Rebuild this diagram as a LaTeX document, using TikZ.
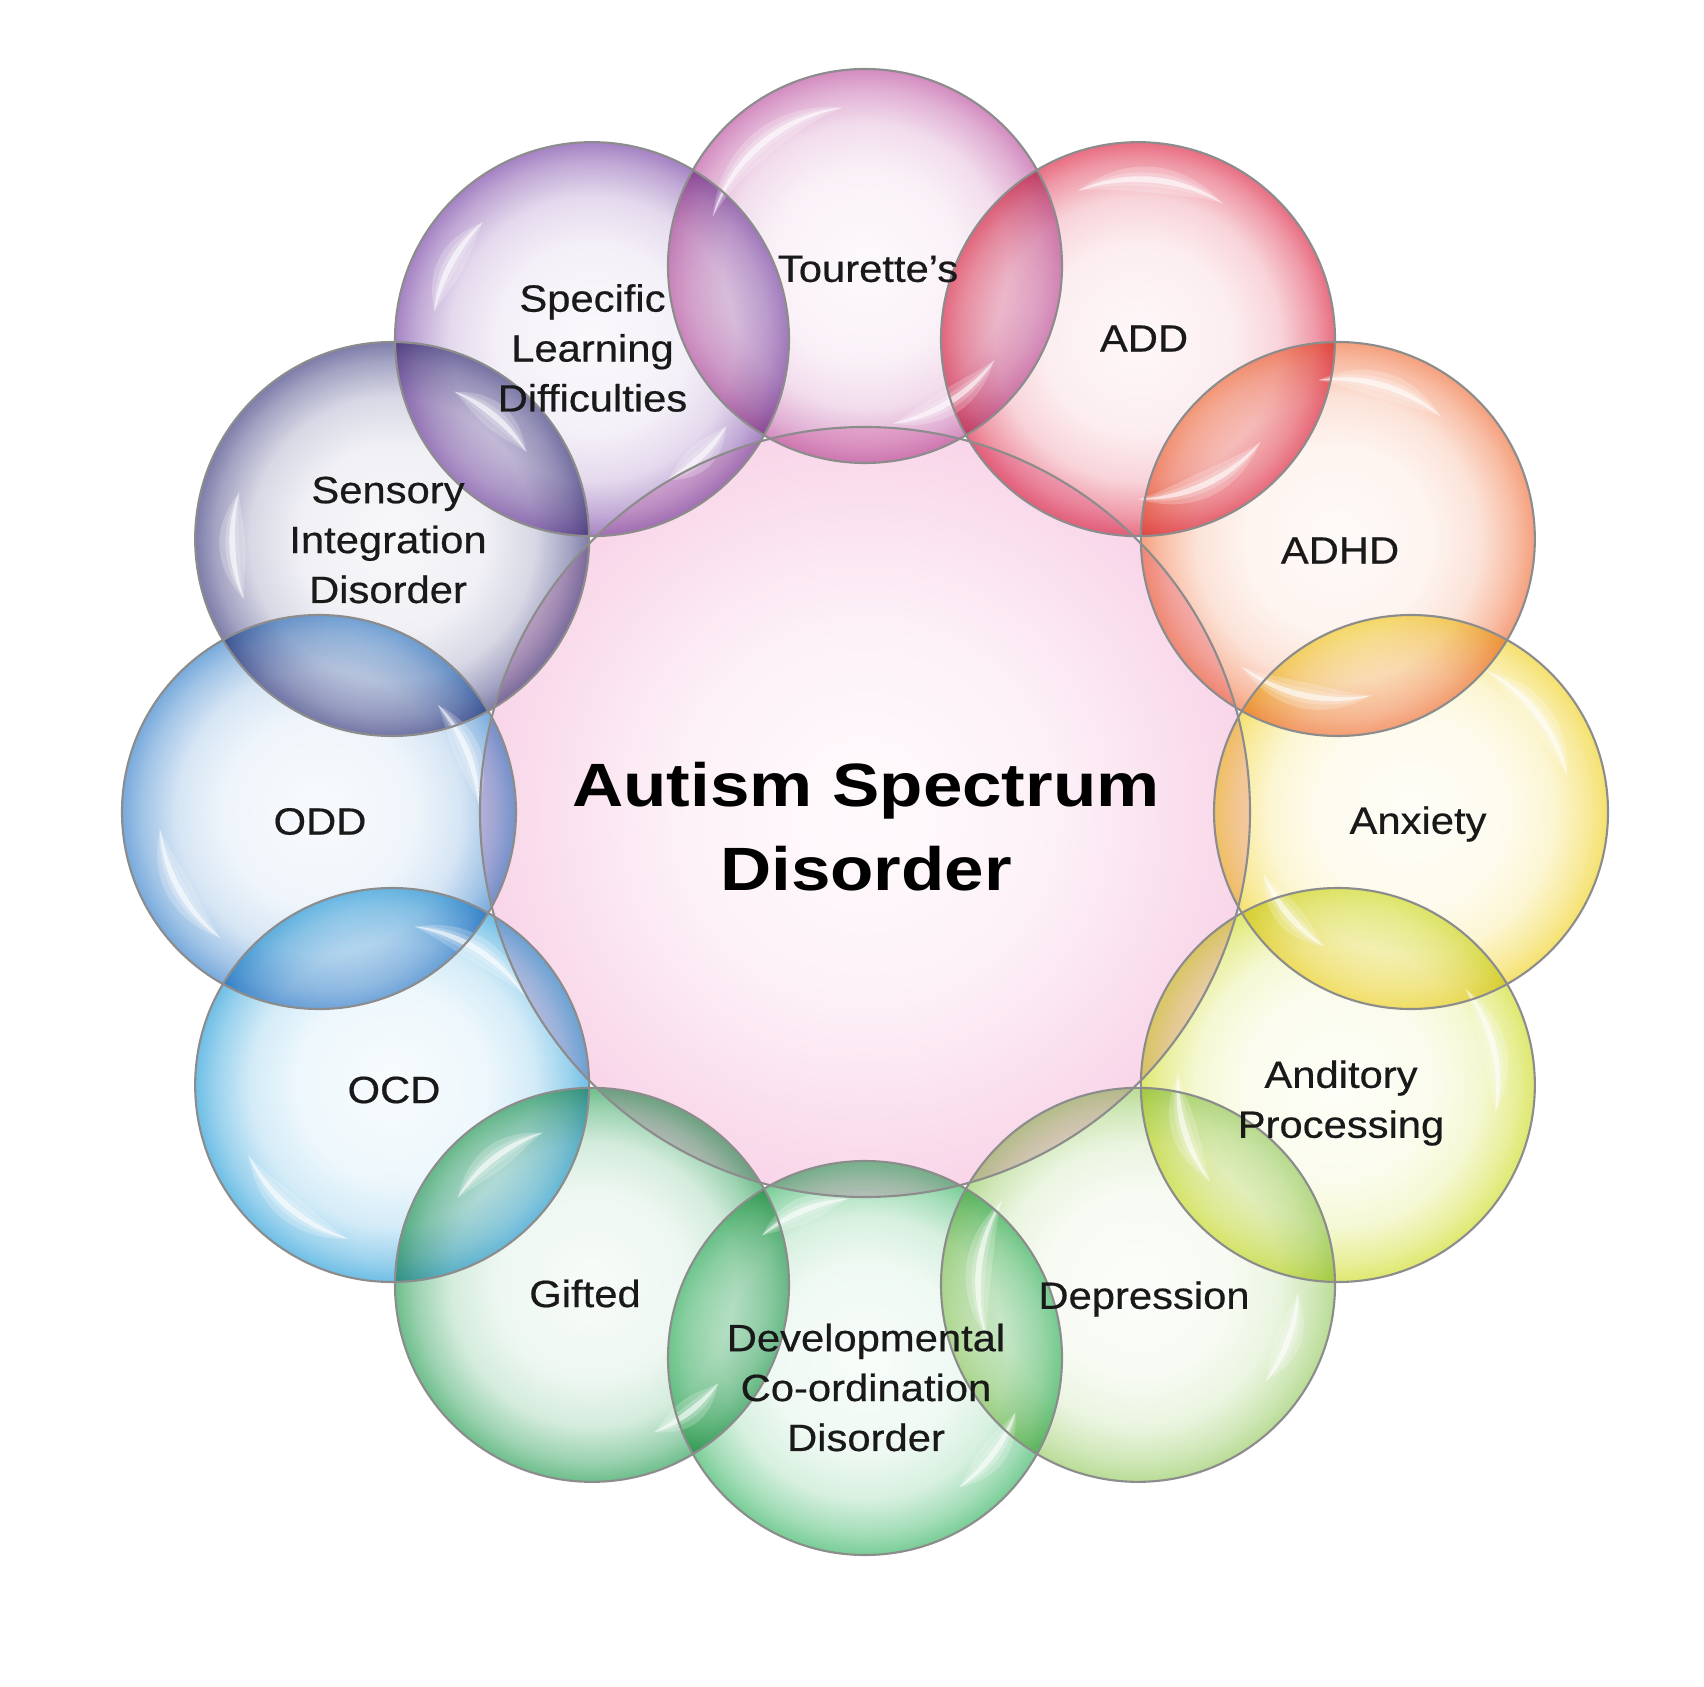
\documentclass[tikz,border=0pt]{standalone}
\usepackage{fontspec}
\setmainfont{Liberation Sans}
\newfontfamily\condfont[FakeStretch=1.1,FakeBold=0.5]{Liberation Sans}
\newfontfamily\corefont[FakeStretch=1.16]{Liberation Sans}
\usetikzlibrary{calc}

\definecolor{corepink}{HTML}{F3B3D6}
\definecolor{tourettepink}{HTML}{D38CC0}
\definecolor{addred}{HTML}{E86E82}
\definecolor{adhdorange}{HTML}{F5A07D}
\definecolor{anxietyyellow}{HTML}{F5E16E}
\definecolor{auditorylime}{HTML}{DEE86E}
\definecolor{depressiongreen}{HTML}{B9DC96}
\definecolor{dcdgreen}{HTML}{78CD96}
\definecolor{giftedgreen}{HTML}{6EBE8C}
\definecolor{ocdblue}{HTML}{6EBEE6}
\definecolor{oddblue}{HTML}{78AADC}
\definecolor{sidslate}{HTML}{7D7DAA}
\definecolor{sldpurple}{HTML}{A582C3}

\colorlet{bubblecol}{white}
\pgfdeclareradialshading[bubblecol]{bubble}{\pgfpoint{0bp}{0bp}}{%
	color(0bp)=(bubblecol!5!white); color(12bp)=(bubblecol!12!white);
	color(18bp)=(bubblecol!30!white); color(22.5bp)=(bubblecol!70!white);
	color(25bp)=(bubblecol); color(50bp)=(bubblecol)}
\pgfdeclareradialshading[bubblecol]{corebubble}{\pgfpoint{0bp}{0bp}}{%
	color(0bp)=(bubblecol!6!white); color(12bp)=(bubblecol!18!white);
	color(25bp)=(bubblecol!55!white); color(50bp)=(bubblecol!55!white)}

\tikzset{
	rim/.style={draw=black!45, line width=0.6pt},
	glow/.style={fill=white, opacity=0.22},
	gloss/.style={fill=white, opacity=0.6},
	cond/.style={font=\condfont\fontsize{10.8}{14.2}\selectfont, align=center, inner sep=0pt, text=black!90},
	core/.style={font=\corefont\bfseries\fontsize{17.4}{23.9}\selectfont, align=center, inner sep=0pt}
}

\def\bubble(#1:#2:#3)#4{\colorlet{bubblecol}{#4}\shade[shading=bubble, blend mode=multiply] (#1:#2) circle (#3);}
\def\gleam(#1:#2)(#3:#4){%
	\fill[glow, shift={(#1:#2)}] plot[smooth, samples=15, domain=#3:#4] (\x:{1.6+0.13*sin(180*(\x-(#3))/((#4)-(#3)))}) -- plot[smooth, samples=15, domain=#4:#3] (\x:{1.6-0.13*sin(180*(\x-(#3))/((#4)-(#3)))}) -- cycle;
	\fill[glow, shift={(#1:#2)}] plot[smooth, samples=15, domain=#3:#4] (\x:{1.6+0.07*sin(180*(\x-(#3))/((#4)-(#3)))}) -- plot[smooth, samples=15, domain=#4:#3] (\x:{1.6-0.07*sin(180*(\x-(#3))/((#4)-(#3)))}) -- cycle;
	\fill[gloss, shift={(#1:#2)}] plot[smooth, samples=15, domain=#3:#4] (\x:{1.6+0.03*sin(180*(\x-(#3))/((#4)-(#3)))}) -- plot[smooth, samples=15, domain=#4:#3] (\x:{1.6-0.03*sin(180*(\x-(#3))/((#4)-(#3)))}) -- cycle;}

\begin{document}
\begin{tikzpicture}
	%%%%% FRAME %%%%%
	\useasboundingbox (-8.65, -8.74) rectangle (8.39, 8.12);
	
	%%%%% BUBBLES %%%%%
	\colorlet{bubblecol}{corepink}
	\shade[shading=corebubble, blend mode=multiply] (0, 0) circle (3.85);
	
	\bubble(90:5.46:1.97){tourettepink}
	\bubble(60:5.46:1.97){addred}
	\bubble(30:5.46:1.97){adhdorange}
	\bubble(0:5.46:1.97){anxietyyellow}
	\bubble(-30:5.46:1.97){auditorylime}
	\bubble(-60:5.46:1.97){depressiongreen}
	\bubble(-90:5.46:1.97){dcdgreen}
	\bubble(-120:5.46:1.97){giftedgreen}
	\bubble(-150:5.46:1.97){ocdblue}
	\bubble(180:5.46:1.97){oddblue}
	\bubble(150:5.46:1.97){sidslate}
	\bubble(120:5.46:1.97){sldpurple}
	
	%%%%% GLEAMS %%%%%
	\gleam(90:5.46)(98:162) \gleam(90:5.46)(280:324)
	\gleam(60:5.46)(58:112) \gleam(60:5.46)(270:320)
	\gleam(30:5.46)(50:97) \gleam(30:5.46)(233:282)
	\gleam(0:5.46)(13:62) \gleam(0:5.46)(203:237)
	\gleam(-30:5.46)(-10:37) \gleam(-30:5.46)(176:217)
	\gleam(-60:5.46)(-37:-3) \gleam(-60:5.46)(148:200)
	\gleam(-90:5.46)(96:130) \gleam(-90:5.46)(-54:-20)
	\gleam(-120:5.46)(108:147) \gleam(-120:5.46)(-67:-38)
	\gleam(-150:5.46)(206:254) \gleam(-150:5.46)(34:82)
	\gleam(180:5.46)(186:232) \gleam(180:5.46)(3:42)
	\gleam(150:5.46)(163:202) \gleam(150:5.46)(33:67)
	\gleam(120:5.46)(133:170) \gleam(120:5.46)(298:327)
	
	%%%%% RIMS %%%%%
	\draw[rim] (0, 0) circle (3.85);
	\draw[rim] (90:5.46) circle (1.97);
	\draw[rim] (60:5.46) circle (1.97);
	\draw[rim] (30:5.46) circle (1.97);
	\draw[rim] (0:5.46) circle (1.97);
	\draw[rim] (-30:5.46) circle (1.97);
	\draw[rim] (-60:5.46) circle (1.97);
	\draw[rim] (-90:5.46) circle (1.97);
	\draw[rim] (-120:5.46) circle (1.97);
	\draw[rim] (-150:5.46) circle (1.97);
	\draw[rim] (180:5.46) circle (1.97);
	\draw[rim] (150:5.46) circle (1.97);
	\draw[rim] (120:5.46) circle (1.97);
	
	%%%%% TEXT %%%%%
	\node[core] (asd) at (0.01, -0.145) {Autism Spectrum\\Disorder};
	
	\node[cond] (tourette) at (0.03, 5.43) {Tourette’s};
	\node[cond] (add) at (2.79, 4.735) {ADD};
	\node[cond] (adhd) at (4.75, 2.615) {ADHD};
	\node[cond] (anxiety) at (5.53, -0.12) {Anxiety};
	\node[cond] (auditory) at (4.76, -2.91) {Anditory\\Processing};
	\node[cond] (depression) at (2.79, -4.87) {Depression};
	\node[cond] (dcd) at (0.01, -5.755) {Developmental\\Co-ordination\\Disorder};
	\node[cond] (gifted) at (-2.80, -4.815) {Gifted};
	\node[cond] (ocd) at (-4.71, -2.78) {OCD};
	\node[cond] (odd) at (-5.45, -0.095) {ODD};
	\node[cond] (sid) at (-4.77, 2.72) {Sensory\\Integration\\Disorder};
	\node[cond] (sld) at (-2.725, 4.64) {Specific\\Learning\\Difficulties};
\end{tikzpicture}
\end{document}
